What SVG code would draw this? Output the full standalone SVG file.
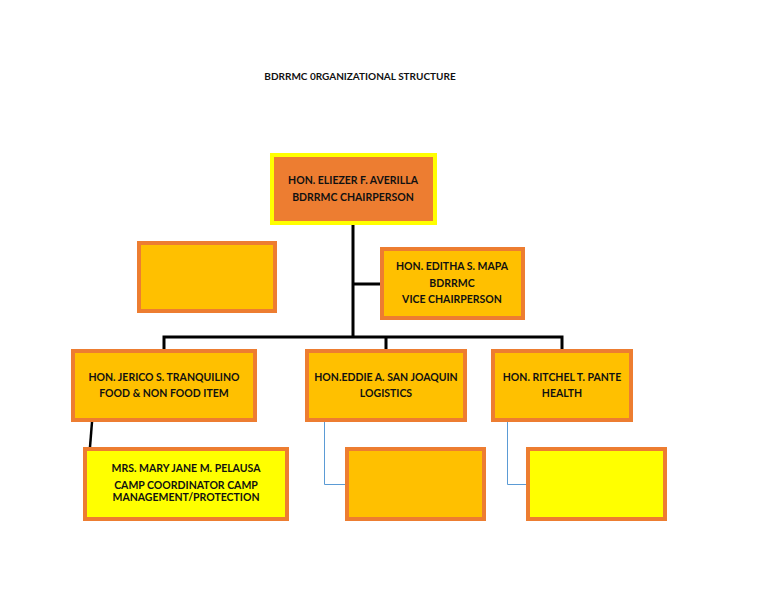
<svg xmlns="http://www.w3.org/2000/svg" width="768" height="594" viewBox="0 0 768 594">
<style>
.b{stroke:#ED7D31;stroke-width:4;fill:#FFC000}
.y{fill:#FFFF00}
.t{font-family:Lato,"Liberation Sans",sans-serif;font-weight:bold;font-size:10.5px;fill:#111;text-anchor:middle}
.k{stroke:#000;stroke-width:3;fill:none}
.bl{stroke:#5B9BD5;stroke-width:1;fill:none}
</style>
<rect width="768" height="594" fill="#fff"/>
<text class="t" x="360" y="80" style="font-size:10px">BDRRMC 0RGANIZATIONAL STRUCTURE</text>
<g id="connectors">
<path class="k" d="M353 225V337M353 284H380M164 349V337H562V349M386 337V349"/>
<path d="M92 422L90 447" stroke="#000" stroke-width="2.5"/>
<path class="bl" d="M324.5 422V484.5H345M507.5 422V484.5H526"/>
</g>
<g id="chair"><rect x="272" y="155" width="163" height="68" fill="#ED7D31" stroke="#FFFF00" stroke-width="4"/>
<text class="t" x="353" y="184">HON. ELIEZER F. AVERILLA</text><text class="t" x="353" y="201">BDRRMC CHAIRPERSON</text></g>
<g id="empty1"><rect class="b" x="139" y="243" width="136" height="68"/></g>
<g id="vice"><rect class="b" x="382" y="249" width="141" height="69"/>
<text class="t" x="452" y="270">HON. EDITHA S. MAPA</text><text class="t" x="452" y="287">BDRRMC</text><text class="t" x="452" y="303">VICE CHAIRPERSON</text></g>
<g id="jerico"><rect class="b" x="73" y="351" width="182" height="69"/>
<text class="t" x="164" y="381">HON. JERICO S. TRANQUILINO</text><text class="t" x="164" y="397">FOOD &amp; NON FOOD ITEM</text></g>
<g id="eddie"><rect class="b" x="307" y="351" width="158" height="69"/>
<text class="t" x="386" y="381">HON.EDDIE A. SAN JOAQUIN</text><text class="t" x="386" y="397">LOGISTICS</text></g>
<g id="ritchel"><rect class="b" x="493" y="351" width="138" height="69"/>
<text class="t" x="562" y="381">HON. RITCHEL T. PANTE</text><text class="t" x="562" y="397">HEALTH</text></g>
<g id="mary"><rect class="b y" x="85" y="449" width="202" height="70"/>
<text class="t" x="186" y="472">MRS. MARY JANE M. PELAUSA</text><text class="t" x="186" y="489">CAMP COORDINATOR CAMP</text><text class="t" x="186" y="501">MANAGEMENT/PROTECTION</text></g>
<g id="empty2"><rect class="b" x="347" y="449" width="137" height="70"/></g>
<g id="empty3"><rect class="b y" x="528" y="449" width="137" height="70"/></g>
</svg>
